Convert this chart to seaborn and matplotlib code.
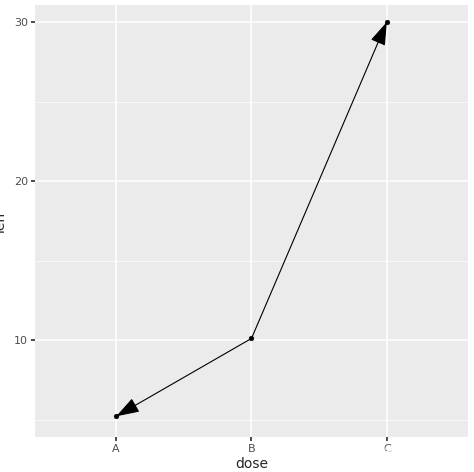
import matplotlib
matplotlib.use("Agg")
import matplotlib.pyplot as plt
import seaborn as sns
import pandas as pd

dose = ["A", "B", "C"]
length = [5.2, 10.1, 30.0]
df = pd.DataFrame({"dose": dose, "len": length})

sns.set_theme(style="darkgrid", rc={"axes.facecolor": "#EBEBEB", "grid.color": "white"})
plt.rcParams['font.family'] = ['DejaVu Sans']

fig = plt.figure(figsize=(4.74, 4.72), dpi=100)
ax = fig.add_axes([35/474, 35/472, 433/474, 432/472])
sns.scatterplot(data=df, x="dose", y="len", ax=ax, color="black", s=12, zorder=3, edgecolor=None)
xs = list(range(len(dose)))
for (x0, y0), (x1, y1) in [((xs[1], length[1]), (xs[0], length[0])), ((xs[1], length[1]), (xs[2], length[2]))]:
    ax.annotate("", xy=(x1, y1), xytext=(x0, y0),
                arrowprops=dict(arrowstyle="-|>,head_length=1.2,head_width=0.4", color="black", lw=0.8,
                                shrinkA=0, shrinkB=0), zorder=4)
ax.set_xlim(-0.6, 2.6)
ax.set_ylim(3.9, 31.07)
ax.set_yticks([10, 20, 30])
ax.set_yticks([5, 15, 25], minor=True)
ax.grid(True, which="major", color="white", lw=1.1)
ax.grid(True, which="minor", color="white", lw=0.5)
ax.tick_params(axis="both", labelsize=8, labelcolor="#4D4D4D", length=3, color="#333333",
               bottom=True, left=True, pad=2)
ax.set_xlabel("dose", fontsize=10, labelpad=2)
ax.set_ylabel("len", fontsize=10, labelpad=0)
ax.yaxis.set_label_coords(-0.065, 0.5)
for s in ax.spines.values():
    s.set_visible(False)
fig.text(384/474, 1 - 453/472, "知乎 @西游东行", fontsize=8.5, color="white",
         family=["Noto Sans CJK SC", "DejaVu Sans"], va="center", ha="left", alpha=0.9)
fig.savefig("out.png", dpi=100, facecolor="white")
